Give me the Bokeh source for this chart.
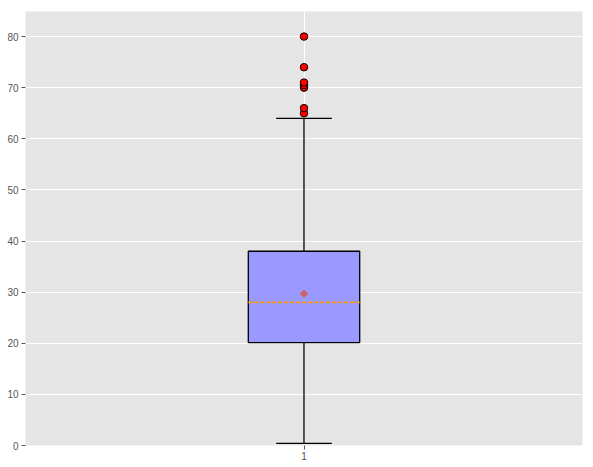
import math
from bokeh.plotting import figure
from bokeh.models import FixedTicker, Range1d
from bokeh.embed import file_html
from bokeh.resources import INLINE

# Data
positions = [1]
q1 = [20.125]
median = [28.0]
q3 = [38.0]
mean = [29.7]
whisker_low = [0.42]
whisker_high = [64.0]
outliers = [65, 66, 70, 70.5, 71, 74, 80]
y_ticks = [0, 10, 20, 30, 40, 50, 60, 70, 80]

box_width = 0.2
cap_width = 0.1

p = figure(width=588, height=462, output_backend="svg", toolbar_location=None,
           x_range=Range1d(0.5, 1.5), y_range=Range1d(0, 84.9),
           min_border_left=25, min_border_right=6, min_border_top=11, min_border_bottom=17)

p.background_fill_color = "#E5E5E5"
p.border_fill_color = "white"
p.outline_line_color = None

pos = positions[0]
# whiskers
p.segment(x0=[pos, pos], y0=[q3[0], q1[0]], x1=[pos, pos], y1=[whisker_high[0], whisker_low[0]],
          line_color="black", line_width=1.3)
# caps
p.segment(x0=[pos - cap_width / 2] * 2, x1=[pos + cap_width / 2] * 2,
          y0=[whisker_high[0], whisker_low[0]], y1=[whisker_high[0], whisker_low[0]],
          line_color="black", line_width=1.3)
# box
p.vbar(x=positions, bottom=q1, top=q3, width=box_width, fill_color="#9999ff",
       line_color="black", line_width=1.3)
# median
p.segment(x0=[pos - box_width / 2], x1=[pos + box_width / 2], y0=median, y1=median,
          line_color="#ff9a00", line_width=1.6, line_dash="4 2")
# mean
p.scatter(x=positions, y=mean, marker="square", angle=math.pi / 4, size=5.5,
          fill_color="#d2605c", line_color="#d2605c", line_width=0.5)
# outliers
p.scatter(x=[pos] * len(outliers), y=outliers, marker="circle", size=7.5,
          fill_color="red", line_color="black", line_width=1)

for ax in (p.xaxis[0], p.yaxis[0]):
    ax.axis_line_color = None
    ax.major_tick_line_color = "#555555"
    ax.major_tick_in = 0
    ax.major_tick_out = 4
    ax.minor_tick_line_color = None
    ax.major_label_text_color = "#555555"
    ax.major_label_text_font = "Liberation Sans"
    ax.major_label_text_font_size = "10px"
    ax.major_label_standoff = 3

p.yaxis[0].ticker = FixedTicker(ticks=y_ticks)
p.xaxis[0].ticker = FixedTicker(ticks=positions)
p.xaxis[0].major_label_standoff = 2

p.xgrid.grid_line_color = "white"
p.ygrid.grid_line_color = "white"
p.xgrid.grid_line_width = 1
p.ygrid.grid_line_width = 1

open("out.html", "w").write(file_html(p, INLINE))
